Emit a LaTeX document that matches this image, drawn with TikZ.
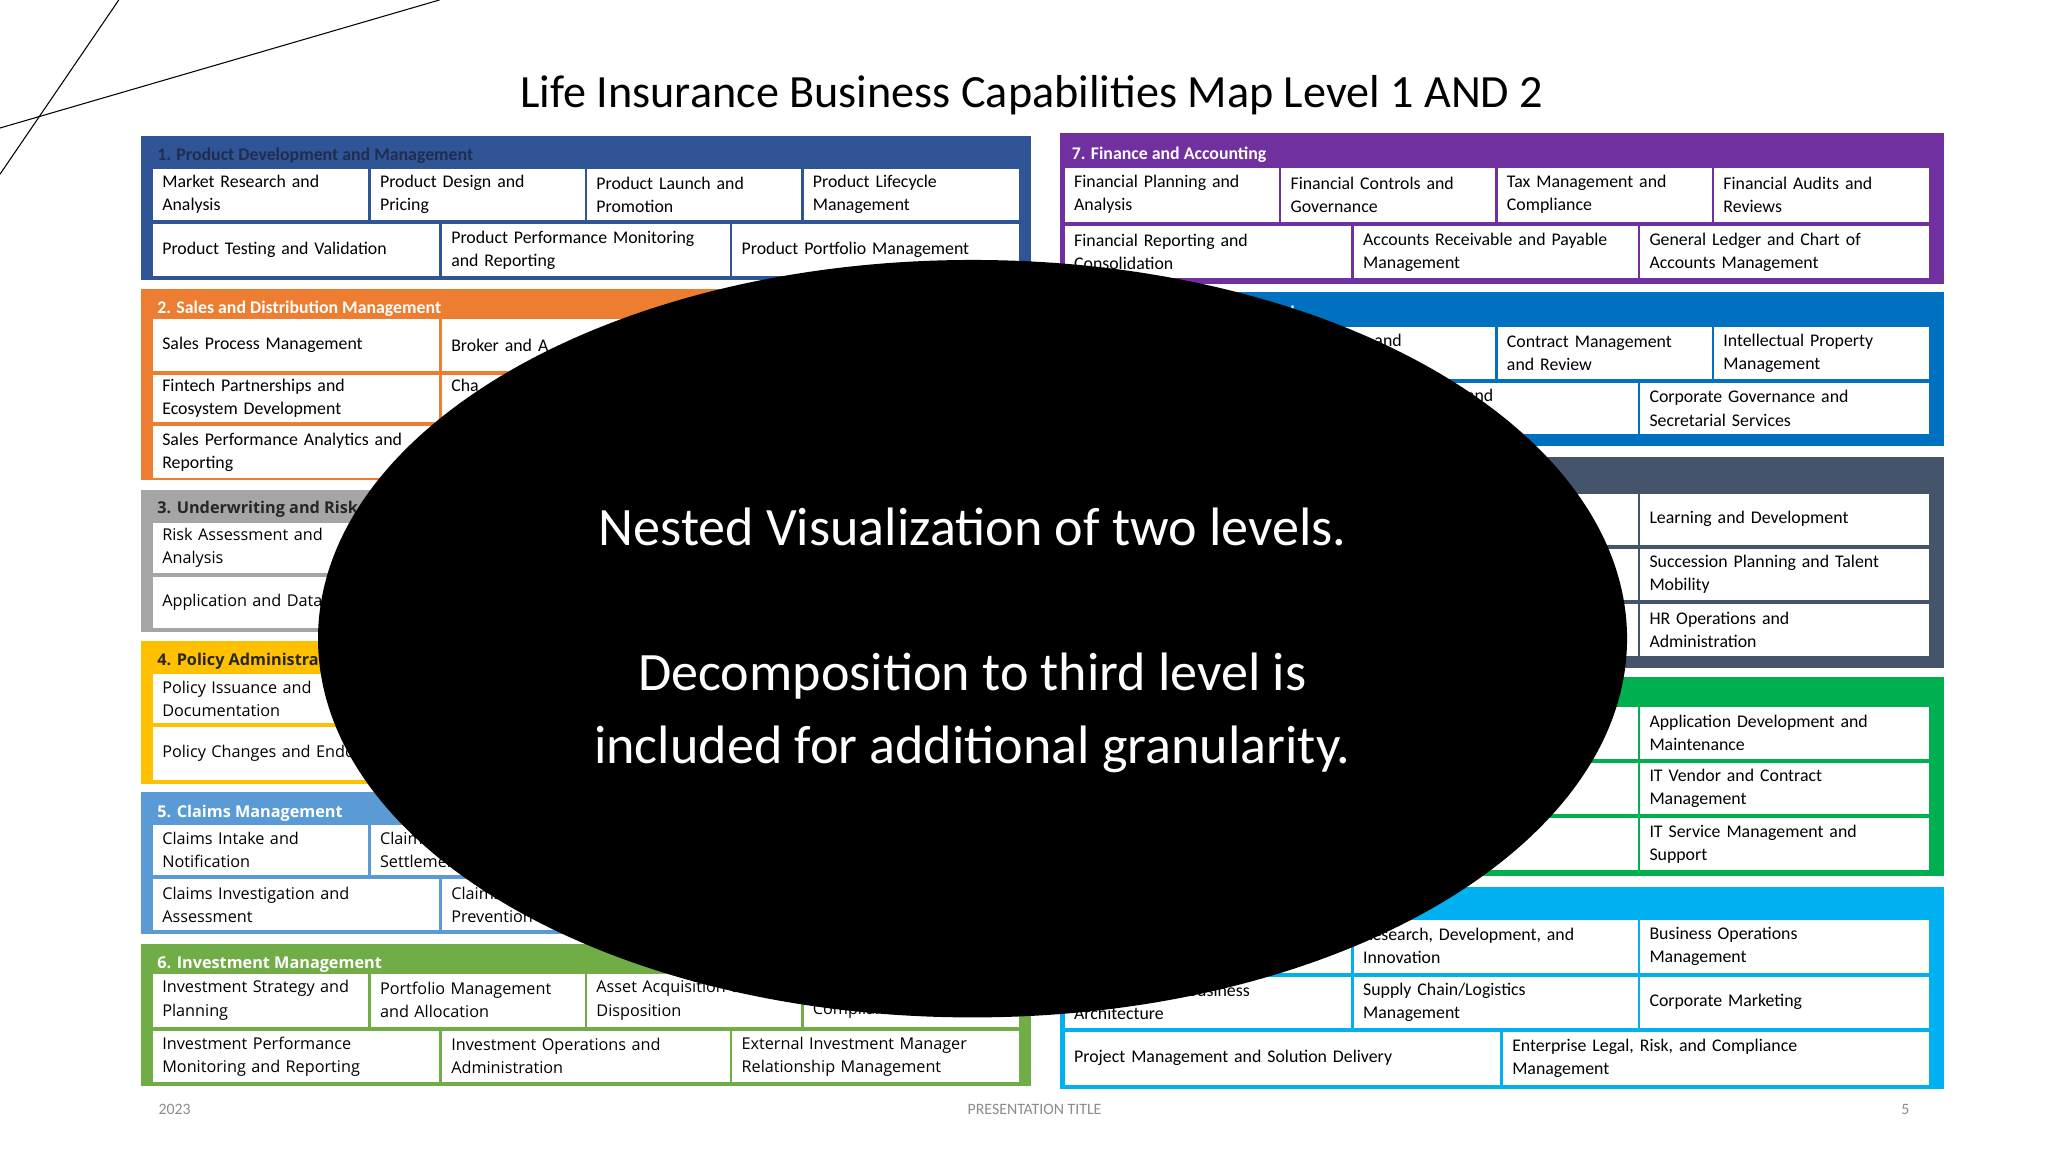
\documentclass[tikz,border=0pt]{standalone}
\usepackage{fontspec}
\setmainfont{Carlito}
\newfontfamily\os{Open Sans}
\definecolor{cP1}{HTML}{2F5597}
\definecolor{cP2}{HTML}{ED7D31}
\definecolor{cP3}{HTML}{A5A5A5}
\definecolor{cP4}{HTML}{FFC000}
\definecolor{cP5}{HTML}{5B9BD5}
\definecolor{cP6}{HTML}{70AD47}
\definecolor{cP7}{HTML}{7030A0}
\definecolor{cP8}{HTML}{0070C0}
\definecolor{cP9}{HTML}{44546A}
\definecolor{cP10}{HTML}{00B050}
\definecolor{cP11}{HTML}{00B0F0}
\definecolor{navyt}{HTML}{1F2D50}
\definecolor{footg}{HTML}{8C8C8C}
\tikzset{
 cellbox/.style={fill=white,inner sep=0pt,align=left,font=\fontsize{13.5}{17.5}\selectfont},
 cellos/.style={cellbox,font=\os\fontsize{12.3}{17.5}\selectfont},
 hdr/.style={anchor=west,inner sep=0pt,font=\bfseries\fontsize{13.5}{16}\selectfont},
 hdros/.style={anchor=west,inner sep=0pt,font=\os\bfseries\fontsize{12.3}{16}\selectfont},
 panel/.style={inner sep=0pt},
 foot/.style={text=footg,inner sep=0pt,font=\fontsize{12}{14}\selectfont}
}
% #1 name, #2 x1, #3 y1, #4 x2, #5 y2, #6 style, #7 text
\newcommand\mycell[7]{\node[#6,minimum width={(#4-#2)*1pt},minimum height={(#5-#3)*1pt},text width={(#4-#2-14)*1pt}] (#1) at ({(#2+#4)/2},{(#3+#5)/2}) {#7};}
\newcommand\mypanel[6]{\node[panel,fill=#6,minimum width={(#4-#2)*1pt},minimum height={(#5-#3)*1pt}] (#1) at ({(#2+#4)/2},{(#3+#5)/2}) {};}
\begin{document}
\begin{tikzpicture}[x=1pt,y=-1pt]
\useasboundingbox[fill=white] (0,0) rectangle (1552,873);
% decorative lines
\coordinate (la) at (0,97); \coordinate (lb) at (333,0);
\coordinate (lc) at (0,132); \coordinate (ld) at (90,0);
\draw[black,line width=0.8pt] (la) -- (lb);
\draw[black,line width=0.8pt] (lc) -- (ld);
\node[inner sep=0pt,font=\fontsize{35}{40}\selectfont] (title) at (782,72) {Life Insurance Business Capabilities Map Level 1 AND 2};

% ---------- Panel 1
\mypanel{p1}{107}{103}{781}{212}{cP1}
\node[hdr,text=navyt] (h1) at (119,118) {1. Product Development and Management};
\mycell{a1}{116}{128}{279}{167}{cellbox}{Market Research and\\Analysis}
\mycell{a2}{281}{128}{443}{167}{cellbox}{Product Design and\\Pricing}
\mycell{a3}{445}{128}{607}{167}{cellbox}{Product Launch and\\Promotion}
\mycell{a4}{609}{128}{772}{167}{cellbox}{Product Lifecycle\\Management}
\mycell{a5}{116}{170}{333}{209}{cellbox}{Product Testing and Validation}
\mycell{a6}{335}{170}{553}{209}{cellbox}{Product Performance Monitoring\\and Reporting}
\mycell{a7}{555}{170}{772}{209}{cellbox}{Product Portfolio Management}

% ---------- Panel 2
\mypanel{p2}{107}{219}{781}{364}{cP2}
\node[hdr,text=white] (h2) at (119,234) {2. Sales and Distribution Management};
\mycell{b1}{116}{242}{333}{281}{cellbox}{Sales Process Management}
\mycell{b2}{335}{242}{553}{281}{cellbox}{Broker and A}
\mycell{b3}{116}{284}{333}{320}{cellbox}{Fintech Partnerships and\\Ecosystem Development}
\mycell{b4}{335}{284}{553}{320}{cellbox}{\vphantom{g}Cha\\ \vphantom{g}}
\mycell{b5}{116}{323}{443}{362}{cellbox}{Sales Performance Analytics and\\Reporting}

% ---------- Panel 3
\mypanel{p3}{107}{371}{781}{479}{cP3}
\node[hdros,text=black!85] (h3) at (119,386) {3. Underwriting and Risk};
\mycell{c1}{116}{396}{443}{434}{cellos}{Risk Assessment and\\Analysis}
\mycell{c2}{116}{437}{443}{476}{cellos}{Application and Data}

% ---------- Panel 4
\mypanel{p4}{107}{486}{781}{594}{cP4}
\node[hdros,text=black!85] (h4) at (119,501) {4. Policy Administration};
\mycell{d1}{116}{511}{443}{548}{cellos}{Policy Issuance and\\Documentation}
\mycell{d2}{116}{551}{443}{591}{cellos}{Policy Changes and Endorsements}

% ---------- Panel 5
\mypanel{p5}{107}{600}{781}{708}{cP5}
\node[hdros,text=white] (h5) at (119,616) {5. Claims Management};
\mycell{e1}{116}{625}{279}{663}{cellos}{Claims Intake and\\Notification}
\mycell{e2}{281}{625}{553}{663}{cellos}{Claims\\Settlement}
\mycell{e3}{116}{666}{333}{705}{cellos}{Claims Investigation and\\Assessment}
\mycell{e4}{335}{666}{553}{705}{cellos}{Claims\\Prevention}

% ---------- Panel 6
\mypanel{p6}{107}{715}{781}{823}{cP6}
\node[hdros,text=white] (h6) at (119,731) {6. Investment Management};
\mycell{f1}{116}{738}{279}{778}{cellos}{Investment Strategy and\\Planning}
\mycell{f2}{281}{738}{443}{778}{cellos}{Portfolio Management\\and Allocation}
\mycell{f3}{445}{738}{607}{778}{cellos}{Asset Acquisition and\\Disposition}
\mycell{f4}{609}{738}{772}{778}{cellos}{\vphantom{g}\\Compliance}
\mycell{f5}{116}{781}{333}{820}{cellos}{Investment Performance\\Monitoring and Reporting}
\mycell{f6}{335}{781}{553}{820}{cellos}{Investment Operations and\\Administration}
\mycell{f7}{555}{781}{772}{820}{cellos}{External Investment Manager\\Relationship Management}

% ---------- Panel 7
\mypanel{p7}{803}{101}{1473}{215}{cP7}
\node[hdr,text=white] (h7) at (812,117) {7. Finance and Accounting};
\mycell{g1}{807}{127}{969}{168}{cellbox}{Financial Planning and\\Analysis}
\mycell{g2}{971}{127}{1133}{168}{cellbox}{Financial Controls and\\Governance}
\mycell{g3}{1135}{127}{1297}{168}{cellbox}{Tax Management and\\Compliance}
\mycell{g4}{1299}{127}{1462}{168}{cellbox}{Financial Audits and\\Reviews}
\mycell{g5}{807}{171}{1024}{211}{cellbox}{Financial Reporting and\\Consolidation}
\mycell{g6}{1026}{171}{1241}{211}{cellbox}{Accounts Receivable and Payable\\Management}
\mycell{g7}{1243}{171}{1462}{211}{cellbox}{General Ledger and Chart of\\Accounts Management}

% ---------- Panel 8
\mypanel{p8}{803}{221}{1473}{338}{cP8}
\node[hdr,text=white] (h8) at (812,238) {8. Risk, Compliance, and Legal};
\mycell{k1}{807}{248}{969}{287}{cellbox}{}
\mycell{k2}{971}{248}{1133}{287}{cellbox}{Regulatory and\\ \vphantom{g}}
\mycell{k3}{1135}{248}{1297}{287}{cellbox}{Contract Management\\and Review}
\mycell{k4}{1299}{248}{1462}{287}{cellbox}{Intellectual Property\\Management}
\mycell{k5}{807}{290}{1024}{329}{cellbox}{}
\mycell{k6}{1026}{290}{1241}{329}{cellbox}{Management and\\ \vphantom{g}}
\mycell{k7}{1243}{290}{1462}{329}{cellbox}{Corporate Governance and\\Secretarial Services}

% ---------- Panel 9
\mypanel{p9}{803}{346}{1473}{506}{cP9}
\mycell{m1}{807}{374}{1024}{413}{cellbox}{}
\mycell{m2}{1026}{374}{1241}{413}{cellbox}{}
\mycell{m3}{1243}{374}{1462}{413}{cellbox}{Learning and Development}
\mycell{m4}{807}{416}{1024}{455}{cellbox}{}
\mycell{m5}{1026}{416}{1241}{455}{cellbox}{}
\mycell{m6}{1243}{416}{1462}{455}{cellbox}{Succession Planning and Talent\\Mobility}
\mycell{m7}{807}{458}{1024}{497}{cellbox}{}
\mycell{m8}{1026}{458}{1241}{497}{cellbox}{}
\mycell{m9}{1243}{458}{1462}{497}{cellbox}{HR Operations and\\Administration}

% ---------- Panel 10
\mypanel{p10}{803}{513}{1473}{664}{cP10}
\mycell{n1}{807}{536}{1024}{575}{cellbox}{}
\mycell{n2}{1026}{536}{1241}{575}{cellbox}{}
\mycell{n3}{1243}{536}{1462}{575}{cellbox}{Application Development and\\Maintenance}
\mycell{n4}{807}{578}{1024}{617}{cellbox}{}
\mycell{n5}{1026}{578}{1241}{617}{cellbox}{}
\mycell{n6}{1243}{578}{1462}{617}{cellbox}{IT Vendor and Contract\\Management}
\mycell{n7}{807}{620}{1024}{659}{cellbox}{}
\mycell{n8}{1026}{620}{1241}{659}{cellbox}{}
\mycell{n9}{1243}{620}{1462}{659}{cellbox}{IT Service Management and\\Support}

% ---------- Panel 11
\mypanel{p11}{803}{672}{1473}{825}{cP11}
\mycell{q1}{807}{697}{1024}{737}{cellbox}{}
\mycell{q2}{1026}{697}{1241}{737}{cellbox}{Research, Development, and\\Innovation}
\mycell{q3}{1243}{697}{1462}{737}{cellbox}{Business Operations\\Management}
\mycell{q4}{807}{740}{1024}{779}{cellbox}{Enterprise and Business\\Architecture}
\mycell{q5}{1026}{740}{1241}{779}{cellbox}{Supply Chain/Logistics\\Management}
\mycell{q6}{1243}{740}{1462}{779}{cellbox}{Corporate Marketing}
\mycell{q7}{807}{782}{1137}{822}{cellbox}{Project Management and Solution Delivery}
\mycell{q8}{1139}{782}{1462}{822}{cellbox}{Enterprise Legal, Risk, and Compliance\\Management}

% ---------- overlay ellipse
\fill[black] (737,484) ellipse [x radius=496, y radius=287];
\node[text=white,inner sep=0pt,align=center,font=\fontsize{41}{55}\selectfont] (msg) at (737,485)
 {Nested Visualization of two levels.\\[55pt]Decomposition to third level is\\included for additional granularity.};

% ---------- footer
\node[foot,anchor=west] (f2023) at (120,841) {2023};
\node[foot] (fpt) at (784,841) {PRESENTATION TITLE};
\node[foot] (fpg) at (1444,841) {5};
\end{tikzpicture}
\end{document}
